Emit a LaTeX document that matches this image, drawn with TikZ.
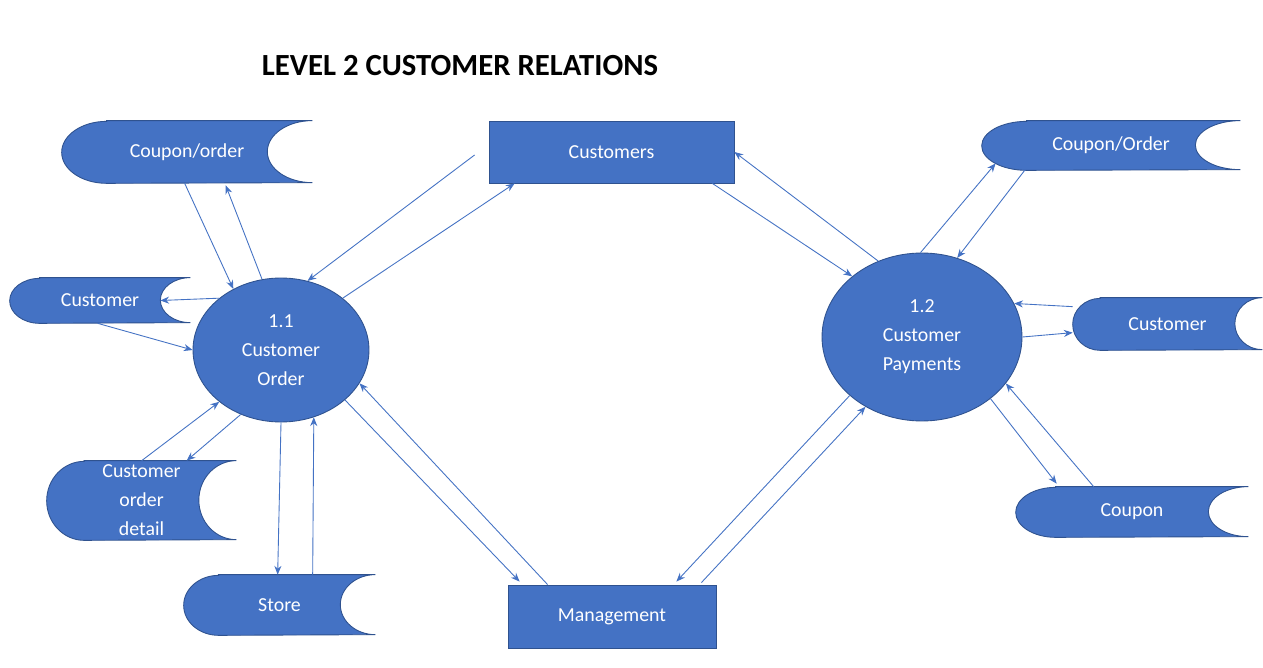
\documentclass[tikz,border=0pt]{standalone}
\usepackage{fontspec}
\setmainfont{Carlito}
\usetikzlibrary{shapes.geometric,calc,arrows.meta}
\definecolor{bfill}{HTML}{4472C4}
\definecolor{bline}{HTML}{2F528F}
\newcommand\dstore[3]{%
  \path[fill=bfill,draw=bline,line width=0.5pt]
    ($(#1.north west)+(#2,0)$) -- (#1.north east)
    arc[start angle=90,end angle=270,x radius=#2,y radius=#3]
    -- ($(#1.south west)+(#2,0)$)
    arc[start angle=270,end angle=90,x radius=#2,y radius=#3] -- cycle;
  \node[txt] at (#1) {\nodetext};}
\begin{document}
\begin{tikzpicture}[x=0.02cm,y=-0.02cm,
  txt/.style={text=white,font=\fontsize{11.3}{16.5}\selectfont,align=center},
  box/.style={rectangle,fill=bfill,draw=bline,line width=0.5pt,inner sep=0pt,txt},
  proc/.style={ellipse,fill=bfill,draw=bline,line width=0.5pt,inner sep=0pt,txt},
  st/.style={rectangle,inner sep=0pt,draw=none},
  flow/.style={draw=bfill,line width=0.5pt,-{Stealth[length=5pt,width=4pt]}}]
\useasboundingbox[fill=white] (0,0) rectangle (1263,668);
\node[font=\fontsize{17.5}{20}\selectfont\bfseries] (title) at (460,66) {LEVEL 2 CUSTOMER RELATIONS};
\node[box,minimum width=4.9cm,minimum height=1.24cm] (cus) at (611.5,152) {Customers};
\node[box,minimum width=4.16cm,minimum height=1.26cm] (mg) at (612,616.5) {Management};
\node[proc,minimum width=3.52cm,minimum height=2.88cm] (p1) at (281,350) {1.1\\Customer\\Order};
\node[proc,minimum width=4cm,minimum height=3.36cm] (p2) at (922,337) {1.2\\Customer\\Payments};
% stores
\node[st,minimum width=5cm,minimum height=1.24cm] (cpo) at (187,152) {};
\def\nodetext{Coupon/order}\dstore{cpo}{0.9cm}{0.62cm}
\node[st,minimum width=3.6cm,minimum height=0.9cm] (custL) at (100,300.5) {};
\def\nodetext{Customer}\dstore{custL}{0.6cm}{0.45cm}
\node[st,minimum width=3.78cm,minimum height=1.58cm] (det) at (141.5,500.5) {};
\def\nodetext{Customer\\order\\detail}\dstore{det}{0.75cm}{0.79cm}
\node[st,minimum width=3.82cm,minimum height=1.2cm] (store) at (279.5,605) {};
\def\nodetext{Store}\dstore{store}{0.7cm}{0.6cm}
\node[st,minimum width=5.16cm,minimum height=0.98cm] (cpoR) at (1111,145.5) {};
\def\nodetext{Coupon/Order}\dstore{cpoR}{0.9cm}{0.49cm}
\node[st,minimum width=3.78cm,minimum height=1.04cm] (custR) at (1167.5,324) {};
\def\nodetext{Customer}\dstore{custR}{0.55cm}{0.52cm}
\node[st,minimum width=4.64cm,minimum height=1cm] (cpn) at (1132,512) {};
\def\nodetext{Coupon}\dstore{cpn}{0.8cm}{0.5cm}
% flows left
\draw[flow] ($(cpo.south west)+(123,0)$) -- (p1.128);
\draw[flow] (p1.105) -- ($(cpo.south west)+(164,2)$);
\draw[flow] (p1.140) -- ($(custL.east)+(-30,0)$);
\draw[flow] ($(custL.south west)+(88,0)$) -- (p1.180);
\draw[flow] ($(cus.west)+(-14,3)$) -- (p1.69);
\draw[flow] (p1.40) -- ($(cus.south west)+(26,0)$);
\draw[flow] ($(det.north west)+(95,0)$) -- (p1.220);
\draw[flow] (p1.238) -- ($(det.north west)+(140,0)$);
\draw[flow] (p1.270) -- ($(store.north west)+(94,0)$);
\draw[flow] ($(store.north west)+(129,0)$) -- (p1.296);
\draw[flow] (p1.322) -- ($(mg.north west)+(12,-3)$);
\draw[flow] ($(mg.north west)+(40,0)$) -- (p1.337);
% flows right
\draw[flow] ($(cus.south east)+(-22,0)$) -- (p2.139);
\draw[flow] (p2.120) -- (cus.east);
\draw[flow] (p2.91) -- ($(cpoR.south west)+(14,-7)$);
\draw[flow] ($(cpoR.south west)+(43,0)$) -- (p2.66);
\draw[flow] ($(custR.north west)+(0,9)$) -- (p2.20);
\draw[flow] (p2.0) -- ($(custR.north west)+(0,35)$);
\draw[flow] (p2.318) -- ($(cpn.north west)+(41,-3)$);
\draw[flow] ($(cpn.north west)+(78,0)$) -- (p2.331);
\draw[flow] (p2.219) -- ($(mg.north east)+(-40,-3)$);
\draw[flow] ($(mg.north east)+(-15,-2)$) -- (p2.231);
\end{tikzpicture}
\end{document}
